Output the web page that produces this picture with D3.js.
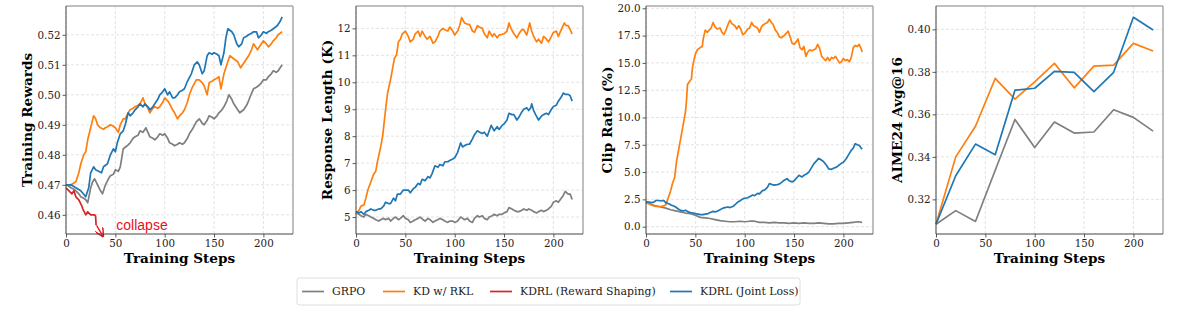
<!DOCTYPE html>
<html>
<head>
<meta charset="utf-8">
<script src="https://cdn.jsdelivr.net/npm/d3@7"></script>
<style>
  body { margin: 0; background: #fff; }
  svg { display: block; }
</style>
</head>
<body>
<div id="chart"></div>
<script>
const width = 1195,
  height = 331;

// ---- data ----
const seriesNames = ["GRPO", "KD w/ RKL", "KDRL (Reward Shaping)", "KDRL (Joint Loss)"];
const seriesColors = ["#7f7f7f", "#ff7f0e", "#d62728", "#1f77b4"];
const xTicks = [0, 50, 100, 150, 200];

// panel 1: training rewards
const rewardGrpo = [[0,0.470],[3,0.4695],[5,0.469],[8,0.4685],[10,0.468],[13,0.467],[15,0.466],[18,0.4655],[20,0.465],[22,0.464],[25,0.469],[27,0.471],[29,0.472],[32,0.470],[35,0.468],[37,0.467],[40,0.470],[43,0.472],[45,0.473],[48,0.4735],[50,0.475],[53,0.4745],[55,0.476],[58,0.482],[60,0.4825],[62,0.483],[65,0.484],[68,0.4855],[70,0.486],[73,0.4865],[75,0.488],[78,0.4875],[81,0.489],[83,0.4875],[85,0.486],[88,0.4855],[90,0.485],[93,0.486],[95,0.487],[98,0.4865],[100,0.487],[103,0.4855],[105,0.484],[108,0.4835],[110,0.483],[113,0.4835],[115,0.484],[118,0.4835],[120,0.484],[123,0.4855],[125,0.487],[128,0.4885],[132,0.491],[135,0.492],[138,0.4905],[140,0.490],[143,0.4915],[145,0.493],[148,0.4925],[150,0.492],[153,0.493],[155,0.494],[158,0.495],[160,0.496],[163,0.498],[165,0.500],[168,0.4985],[170,0.497],[173,0.4955],[176,0.494],[178,0.4945],[180,0.495],[183,0.4965],[185,0.498],[188,0.5005],[190,0.502],[193,0.5025],[195,0.503],[198,0.504],[200,0.505],[203,0.505],[205,0.506],[208,0.507],[210,0.508],[213,0.5075],[215,0.508],[217,0.509],[219,0.510]];
const rewardKd = [[0,0.470],[5,0.470],[10,0.471],[13,0.474],[15,0.477],[18,0.480],[20,0.481],[22,0.485],[25,0.489],[28,0.493],[30,0.492],[32,0.490],[35,0.489],[38,0.4885],[40,0.489],[43,0.4895],[45,0.490],[48,0.4895],[50,0.489],[53,0.4875],[55,0.490],[58,0.492],[60,0.492],[63,0.494],[65,0.495],[68,0.4955],[70,0.496],[73,0.4965],[75,0.497],[78,0.499],[80,0.497],[83,0.4955],[85,0.494],[88,0.4955],[90,0.496],[93,0.4955],[95,0.496],[98,0.4975],[100,0.499],[103,0.498],[105,0.497],[108,0.495],[110,0.494],[113,0.492],[115,0.493],[118,0.494],[120,0.495],[123,0.4975],[125,0.500],[128,0.5025],[132,0.505],[135,0.505],[138,0.504],[140,0.503],[143,0.500],[145,0.504],[148,0.5045],[150,0.505],[153,0.5055],[155,0.506],[157,0.502],[160,0.507],[163,0.510],[166,0.513],[168,0.5125],[170,0.512],[172,0.5115],[174,0.511],[177,0.509],[179,0.510],[181,0.511],[183,0.512],[185,0.513],[188,0.515],[190,0.517],[192,0.516],[194,0.515],[197,0.5165],[200,0.518],[203,0.517],[205,0.516],[208,0.517],[210,0.518],[213,0.519],[215,0.520],[217,0.5205],[219,0.521]];
const rewardShaping = [[0,0.469],[3,0.468],[6,0.467],[8,0.468],[10,0.466],[13,0.465],[16,0.463],[17,0.462],[20,0.460],[22,0.461],[25,0.460],[27,0.460],[29,0.460],[30,0.4595],[30.5,0.4565]];
const rewardJoint = [[0,0.470],[5,0.470],[10,0.469],[15,0.468],[20,0.466],[23,0.469],[25,0.474],[28,0.476],[30,0.475],[33,0.4745],[36,0.474],[38,0.476],[40,0.4765],[42,0.477],[45,0.480],[48,0.482],[50,0.481],[52,0.484],[55,0.487],[58,0.488],[60,0.490],[63,0.494],[65,0.493],[68,0.494],[70,0.495],[73,0.496],[75,0.497],[78,0.496],[80,0.497],[83,0.496],[85,0.495],[88,0.496],[90,0.497],[93,0.4985],[95,0.500],[98,0.501],[100,0.502],[103,0.500],[105,0.501],[108,0.499],[110,0.499],[113,0.500],[115,0.501],[118,0.5015],[120,0.502],[123,0.5045],[127,0.507],[130,0.510],[133,0.511],[135,0.510],[138,0.507],[140,0.508],[143,0.513],[145,0.514],[148,0.5135],[150,0.514],[153,0.5135],[155,0.513],[157,0.510],[160,0.514],[162,0.519],[164,0.522],[166,0.5215],[168,0.521],[170,0.520],[173,0.517],[175,0.516],[178,0.517],[180,0.519],[183,0.5195],[185,0.520],[188,0.5205],[190,0.521],[193,0.521],[195,0.519],[198,0.520],[200,0.521],[203,0.5205],[205,0.521],[208,0.5215],[210,0.522],[212,0.5225],[214,0.523],[217,0.5245],[219,0.526]];

// panel 2: response length (K)
const lengthGrpo = [[0,5.15],[3,5.1],[5,5.05],[8,5.0],[10,5.1],[13,5.05],[15,5.0],[18,4.95],[20,4.9],[23,4.85],[25,4.9],[28,4.95],[30,4.9],[33,4.95],[35,4.85],[38,4.95],[40,5.0],[43,4.9],[45,4.95],[48,5.05],[50,4.95],[53,4.9],[55,4.8],[58,4.85],[60,4.9],[63,4.95],[65,5.0],[68,4.9],[70,4.85],[73,4.95],[75,4.9],[78,4.8],[80,4.85],[83,4.9],[85,4.95],[88,4.9],[90,4.85],[93,4.8],[95,4.85],[98,4.85],[100,4.8],[103,4.85],[106,5.0],[108,4.95],[110,4.9],[113,4.95],[115,4.85],[118,4.8],[120,4.95],[123,5.05],[125,5.0],[128,5.05],[130,4.95],[133,4.9],[135,5.0],[138,5.05],[140,5.1],[143,5.05],[145,5.1],[148,5.1],[150,5.15],[153,5.2],[155,5.35],[158,5.3],[160,5.25],[163,5.2],[165,5.2],[168,5.25],[170,5.3],[173,5.25],[175,5.3],[178,5.25],[180,5.2],[183,5.15],[185,5.2],[188,5.25],[190,5.2],[193,5.25],[195,5.3],[198,5.4],[200,5.55],[203,5.6],[205,5.55],[208,5.7],[210,5.8],[212,5.95],[215,5.85],[217,5.85],[219,5.65]];
const lengthKd = [[0,5.1],[3,5.25],[5,5.4],[8,5.45],[10,5.7],[12,6.0],[15,6.3],[18,6.6],[20,6.7],[22,7.1],[25,7.6],[27,8.0],[30,9.0],[32,9.6],[35,10.1],[37,10.5],[39,10.9],[41,11.0],[43,11.5],[45,11.6],[47,11.8],[50,11.9],[53,11.7],[55,11.5],[58,11.6],[60,11.8],[63,11.9],[65,11.7],[67,11.9],[70,11.7],[72,11.6],[75,11.7],[78,11.45],[80,11.5],[83,11.7],[85,11.9],[88,12.0],[90,11.95],[93,11.9],[95,12.05],[98,11.9],[100,11.75],[103,11.9],[105,12.1],[107,12.4],[110,12.2],[113,12.15],[115,12.15],[118,11.9],[120,11.85],[123,12.1],[125,12.05],[128,12.0],[130,11.8],[133,11.65],[135,11.9],[138,11.7],[140,11.8],[143,11.65],[145,11.75],[150,11.8],[153,11.9],[155,12.2],[157,12.0],[160,11.8],[163,11.65],[165,11.8],[168,11.95],[170,11.95],[173,11.75],[176,12.2],[178,11.9],[180,11.7],[183,11.5],[185,11.6],[188,11.45],[190,11.7],[193,11.6],[195,11.5],[198,11.7],[200,11.85],[203,11.9],[205,11.7],[208,11.95],[211,12.2],[213,12.1],[215,12.1],[217,11.95],[219,11.8]];
const lengthJoint = [[0,5.2],[3,5.15],[5,5.2],[8,5.1],[10,5.2],[13,5.25],[15,5.3],[18,5.25],[20,5.25],[23,5.3],[25,5.3],[28,5.4],[30,5.55],[33,5.5],[35,5.5],[38,5.7],[40,5.6],[42,5.85],[45,5.85],[48,6.0],[50,6.0],[53,6.0],[55,5.9],[58,6.05],[60,6.1],[63,6.25],[65,6.2],[67,6.4],[70,6.35],[73,6.5],[75,6.45],[77,6.6],[80,6.9],[83,6.85],[85,6.95],[88,6.9],[90,7.05],[93,7.05],[95,7.1],[98,7.15],[100,7.2],[103,7.4],[106,7.75],[108,7.6],[110,7.65],[113,7.7],[115,7.7],[118,7.9],[120,8.05],[123,8.2],[125,8.15],[128,8.1],[130,8.15],[133,8.0],[135,8.2],[137,8.4],[140,8.2],[143,8.35],[145,8.25],[148,8.4],[150,8.45],[153,8.6],[155,8.85],[158,8.8],[160,8.8],[163,8.6],[165,8.7],[168,8.9],[170,9.0],[173,9.05],[175,8.95],[177,9.05],[178,9.2],[180,8.95],[182,8.8],[185,8.6],[188,8.75],[190,8.8],[193,8.85],[195,8.8],[198,9.0],[200,9.1],[203,9.15],[205,9.3],[208,9.45],[210,9.6],[212,9.55],[215,9.55],[217,9.5],[219,9.3]];

// panel 3: clip ratio (%)
const clipGrpo = [[0,2.2],[5,2.05],[10,1.9],[15,1.8],[20,1.7],[25,1.55],[30,1.45],[35,1.35],[40,1.25],[45,1.2],[50,1.05],[55,0.85],[60,0.8],[65,0.75],[70,0.65],[75,0.55],[80,0.5],[85,0.45],[90,0.45],[95,0.5],[100,0.45],[105,0.5],[110,0.5],[115,0.4],[120,0.4],[125,0.35],[130,0.4],[135,0.35],[140,0.35],[145,0.3],[150,0.35],[155,0.3],[160,0.35],[165,0.3],[170,0.3],[175,0.35],[180,0.3],[185,0.25],[190,0.25],[195,0.3],[200,0.3],[205,0.35],[210,0.4],[215,0.45],[219,0.4]];
const clipKd = [[0,2.2],[3,2.1],[5,2.0],[8,1.9],[10,1.85],[13,1.85],[15,1.85],[18,1.9],[20,2.0],[22,2.5],[25,3.3],[27,4.0],[29,4.5],[31,6.0],[33,7.0],[35,8.0],[37,9.0],[39,10.0],[40,10.5],[41,11.5],[42,13.0],[44,13.3],[46,13.5],[47,14.5],[48,15.0],[50,15.8],[52,16.2],[55,16.4],[57,16.5],[58,17.2],[60,18.0],[62,17.8],[64,18.0],[66,18.2],[68,18.7],[70,18.3],[72,18.1],[75,18.2],[77,17.8],[79,17.6],[81,18.0],[83,18.5],[85,18.9],[87,18.6],[90,18.4],[92,18.1],[94,18.4],[96,18.1],[98,17.6],[100,17.7],[103,18.1],[105,18.2],[107,18.7],[109,18.4],[111,18.3],[113,18.2],[115,17.8],[117,18.3],[119,18.5],[121,18.6],[123,18.7],[125,19.0],[127,18.7],[129,18.5],[131,18.0],[133,17.8],[135,17.4],[137,17.3],[140,17.5],[142,17.7],[144,17.9],[146,17.4],[148,16.8],[150,16.7],[152,16.9],[154,17.2],[156,16.4],[158,16.2],[160,16.5],[162,15.6],[164,16.0],[166,16.2],[168,16.1],[170,16.2],[172,16.3],[174,16.7],[176,16.3],[178,15.6],[180,15.4],[182,15.2],[184,15.5],[186,15.2],[188,15.5],[190,15.4],[192,15.6],[194,15.3],[196,15.0],[198,15.1],[200,15.4],[202,15.2],[204,15.3],[206,15.1],[208,15.5],[210,16.4],[212,16.6],[214,16.5],[216,16.7],[218,16.3],[219,16.0]];
const clipJoint = [[0,2.3],[3,2.25],[5,2.2],[8,2.25],[10,2.4],[13,2.4],[15,2.35],[18,2.4],[20,2.2],[23,2.1],[25,2.0],[28,1.9],[30,1.8],[33,1.6],[35,1.5],[38,1.45],[40,1.5],[43,1.35],[45,1.3],[48,1.25],[50,1.2],[53,1.15],[55,1.1],[58,1.1],[60,1.15],[63,1.2],[65,1.3],[68,1.4],[70,1.35],[73,1.45],[75,1.55],[78,1.7],[80,1.75],[83,1.8],[85,1.75],[88,1.85],[90,2.0],[93,2.25],[95,2.35],[98,2.55],[100,2.6],[103,2.65],[105,2.75],[108,2.9],[110,2.85],[113,3.05],[115,3.0],[118,3.3],[120,3.35],[123,3.6],[125,3.95],[128,3.85],[130,3.8],[133,3.85],[135,3.9],[138,4.1],[140,4.25],[143,4.4],[145,4.2],[148,4.1],[150,4.2],[153,4.5],[155,4.7],[158,4.55],[160,4.7],[163,4.85],[165,5.0],[168,5.45],[170,5.75],[173,6.05],[175,6.25],[177,6.15],[180,5.95],[183,5.6],[185,5.3],[188,5.25],[190,5.35],[193,5.45],[195,5.6],[198,5.8],[200,5.9],[203,6.25],[205,6.55],[208,7.0],[210,7.2],[212,7.6],[214,7.5],[216,7.45],[218,7.2],[219,7.1]];

// panel 4: AIME24 Avg@16 (evaluated every 20 steps)
const evalSteps = [0, 20, 40, 60, 80, 100, 120, 140, 160, 180, 200, 220];
const aimeGrpo = [0.3083, 0.3147, 0.3096, 0.3337, 0.3576, 0.3444, 0.3564, 0.3512, 0.3517, 0.3622, 0.3586, 0.3521];
const aimeKd = [0.3083, 0.3400, 0.3544, 0.3769, 0.3672, 0.3753, 0.3840, 0.3725, 0.3827, 0.3832, 0.3934, 0.3898];
const aimeJoint = [0.3083, 0.3311, 0.3460, 0.3410, 0.3714, 0.3723, 0.3802, 0.3798, 0.3707, 0.3798, 0.4057, 0.3997];

const panels = [
  { left: 66, label: "Training Rewards", labelDx: -39, yDomain: [0.4536, 0.5296],
    yTicks: [0.46, 0.47, 0.48, 0.49, 0.50, 0.51, 0.52], fmt: d3.format(".2f"),
    lines: [[rewardGrpo, 0], [rewardKd, 1], [rewardShaping, 2], [rewardJoint, 3]], collapse: true },
  { left: 356, label: "Response Length (K)", labelDx: -29, yDomain: [4.37, 12.83],
    yTicks: [5, 6, 7, 8, 9, 10, 11, 12], fmt: d3.format("d"),
    lines: [[lengthGrpo, 0], [lengthKd, 1], [lengthJoint, 3]] },
  { left: 646, label: "Clip Ratio (%)", labelDx: -39, yDomain: [-0.67, 20.21],
    yTicks: [0, 2.5, 5, 7.5, 10, 12.5, 15, 17.5, 20], fmt: d3.format(".1f"),
    lines: [[clipGrpo, 0], [clipKd, 1], [clipJoint, 3]] },
  { left: 936, label: "AIME24 Avg@16", labelDx: -39, yDomain: [0.3037, 0.411],
    yTicks: [0.32, 0.34, 0.36, 0.38, 0.40], fmt: d3.format(".2f"),
    lines: [[evalSteps.map((s, i) => [s, aimeGrpo[i]]), 0],
            [evalSteps.map((s, i) => [s, aimeKd[i]]), 1],
            [evalSteps.map((s, i) => [s, aimeJoint[i]]), 3]] }
];

const plotTop = 6, plotH = 228, plotW = 227;
const serif = "'DejaVu Serif', serif";

const svg = d3.select("#chart").append("svg")
  .attr("width", width)
  .attr("height", height);

panels.forEach(p => {
  const g = svg.append("g").attr("transform", `translate(${p.left},${plotTop})`);
  const x = d3.scaleLinear().domain([0, 230]).range([0, plotW]);
  const y = d3.scaleLinear().domain(p.yDomain).range([plotH, 0]);

  // grid
  g.append("g").selectAll("line").data(xTicks).join("line")
    .attr("x1", d => x(d)).attr("x2", d => x(d)).attr("y1", 0).attr("y2", plotH)
    .attr("stroke", "#dcdcdc").attr("stroke-width", 0.8).attr("stroke-dasharray", "3,2");
  g.append("g").selectAll("line").data(p.yTicks).join("line")
    .attr("x1", 0).attr("x2", plotW).attr("y1", d => y(d)).attr("y2", d => y(d))
    .attr("stroke", "#dcdcdc").attr("stroke-width", 0.8).attr("stroke-dasharray", "3,2");

  const line = d3.line().x(d => x(d[0])).y(d => y(d[1]));
  p.lines.forEach(([data, si]) => {
    g.append("path")
      .datum(data)
      .attr("d", line)
      .attr("fill", "none")
      .attr("stroke", seriesColors[si])
      .attr("stroke-width", 1.7)
      .attr("stroke-linejoin", "round");
  });

  if (p.collapse) {
    const defs = svg.append("defs");
    defs.append("marker").attr("id", "arrow").attr("viewBox", "0 0 10 10")
      .attr("refX", 9).attr("refY", 5).attr("markerWidth", 7).attr("markerHeight", 7)
      .attr("orient", "auto-start-reverse")
      .append("path").attr("d", "M0,0 L10,5 L0,10").attr("fill", "none")
      .attr("stroke", "#e8101a").attr("stroke-width", 1.6);
    g.append("line")
      .attr("x1", x(31)).attr("y1", y(0.4565))
      .attr("x2", x(37.5)).attr("y2", y(0.4528))
      .attr("stroke", "#e8101a").attr("stroke-width", 1.3)
      .attr("marker-end", "url(#arrow)");
    g.append("text")
      .attr("x", x(51)).attr("y", y(0.4566))
      .attr("dy", "0.35em")
      .attr("fill", "#e8101a")
      .attr("font-family", "'Liberation Sans', Arial, sans-serif")
      .attr("font-size", 14)
      .text("collapse");
  }

  // axes
  const xAxis = g.append("g").attr("transform", `translate(0,${plotH})`)
    .call(d3.axisBottom(x).tickValues(xTicks).tickSize(3.5).tickPadding(2));
  const yAxis = g.append("g")
    .call(d3.axisLeft(y).tickValues(p.yTicks).tickFormat(p.fmt).tickSize(3.5).tickPadding(2));
  [xAxis, yAxis].forEach(a => {
    a.select(".domain").remove();
    a.selectAll("text").attr("font-family", serif).attr("font-size", 10.3).attr("fill", "#222");
    a.selectAll("line").attr("stroke", "#333").attr("stroke-width", 0.8);
  });

  // spines
  g.append("line").attr("x1", 0).attr("x2", plotW).attr("y1", 0).attr("y2", 0)
    .attr("stroke", "#aaa").attr("stroke-width", 1.5);
  g.append("line").attr("x1", plotW).attr("x2", plotW).attr("y1", 0).attr("y2", plotH)
    .attr("stroke", "#aaa").attr("stroke-width", 1.5);
  g.append("line").attr("x1", 0).attr("x2", plotW).attr("y1", plotH).attr("y2", plotH)
    .attr("stroke", "#444").attr("stroke-width", 1);
  g.append("line").attr("x1", 0).attr("x2", 0).attr("y1", 0).attr("y2", plotH)
    .attr("stroke", "#444").attr("stroke-width", 1);

  g.append("text")
    .attr("x", plotW / 2).attr("y", plotH + 28.5)
    .attr("text-anchor", "middle")
    .attr("font-family", serif).attr("font-weight", "bold").attr("font-size", 13.6)
    .text("Training Steps");
  g.append("text")
    .attr("transform", `translate(${p.labelDx},${plotH / 2}) rotate(-90)`)
    .attr("text-anchor", "middle").attr("dy", "0.35em")
    .attr("font-family", serif).attr("font-weight", "bold").attr("font-size", 13.6)
    .text(p.label);
});

// legend
const legend = svg.append("g").attr("transform", "translate(297,278)");
legend.append("rect").attr("width", 503).attr("height", 27).attr("rx", 2.5)
  .attr("fill", "#fff").attr("stroke", "#d5d5d5").attr("stroke-width", 0.8);
const legendX = [5, 86, 193, 373];
const item = legend.selectAll("g.item").data(seriesNames).join("g")
  .attr("class", "item")
  .attr("transform", (d, i) => `translate(${legendX[i]},13.5)`);
item.append("line").attr("x1", 0).attr("x2", 22)
  .attr("stroke", (d, i) => seriesColors[i]).attr("stroke-width", 1.7);
item.append("text").attr("x", 30).attr("dy", "0.35em")
  .attr("font-family", serif).attr("font-size", 10.9).attr("fill", "#222")
  .text(d => d);
</script>
</body>
</html>
